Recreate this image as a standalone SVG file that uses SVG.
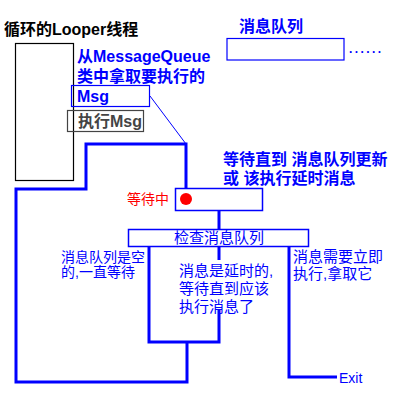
<svg xmlns="http://www.w3.org/2000/svg" width="400" height="400" viewBox="0 0 400 400">
<style>
text{font-family:"Liberation Sans","Noto Sans CJK SC",sans-serif;}
.b{fill:#0000ff;font-weight:bold;font-size:16px;}
.n{fill:#0000ff;font-size:15px;}
.s{fill:#0000ff;font-size:14px;}
.thick{fill:none;stroke:#0000ff;stroke-width:3;}
.box{fill:#fff;stroke:#0000ff;stroke-width:1.5;}
</style>
<rect width="400" height="400" fill="#fff"/>
<g id="title"><text x="4" y="35" font-size="16" font-weight="bold" fill="#000">循环的Looper线程</text></g>
<g id="looper"><rect x="15.5" y="43.5" width="58" height="137" fill="none" stroke="#000" stroke-width="1.2"/></g>
<g id="fetch-label">
<text class="b" x="77" y="62">从MessageQueue</text>
<text class="b" x="77" y="82">类中拿取要执行的</text>
</g>
<g id="msg"><rect x="71.5" y="85.5" width="78" height="21" fill="none" stroke="#0000ff" stroke-width="1.2"/><text class="b" x="77" y="102">Msg</text></g>
<g id="exec"><rect x="67.5" y="110.5" width="76" height="21" fill="none" stroke="#444" stroke-width="1.2"/><text x="78" y="127" font-size="16" font-weight="bold" fill="#444">执行Msg</text></g>
<g id="queue">
<text class="b" x="239" y="32">消息队列</text>
<rect x="227" y="38.5" width="117" height="21.5" fill="none" stroke="#0000ff" stroke-width="1.2"/>
<text x="349" y="53" font-size="12" font-weight="bold" fill="#0000ff" letter-spacing="2.4">......</text>
</g>
<g id="wait-label">
<text class="b" x="223" y="165">等待直到 消息队列更新</text>
<text class="b" x="223" y="184">或 该执行延时消息</text>
</g>
<g id="connectors">
<line x1="150" y1="96" x2="186" y2="144" stroke="#0000ff" stroke-width="1"/>
<polyline class="thick" points="186,189 186,144 86,144 86,189 16,189 16,382 187,382 187,342"/>
<polyline class="thick" points="149,246 149,342 219,342 219,246"/>
<line class="thick" x1="219" y1="210" x2="219" y2="230"/>
<polyline class="thick" points="289,246 289,377 337,377"/>
</g>
<g id="waiting">
<text x="127" y="204" font-size="14" fill="#ff0000">等待中</text>
<rect class="box" x="175.5" y="188.5" width="87" height="22"/>
<circle cx="186" cy="199" r="6" fill="#ff0000"/>
</g>
<g id="check">
<rect class="box" x="128.5" y="229.5" width="180" height="17"/>
<text class="n" x="219" y="243" text-anchor="middle">检查消息队列</text>
</g>
<g id="empty"><text class="s" x="61" y="262">消息队列是空</text><text class="s" x="61" y="277">的,一直等待</text></g>
<g id="delayed"><rect x="177" y="260" width="97" height="50" fill="#fff"/><text class="n" x="179" y="276">消息是延时的,</text><text class="n" x="179" y="294">等待直到应该</text><text class="n" x="179" y="312">执行消息了</text></g>
<g id="now"><text class="n" x="293" y="262">消息需要立即</text><text class="n" x="293" y="279">执行,拿取它</text></g>
<g id="exit"><text x="339" y="383" font-size="14" fill="#0000ff">Exit</text></g>
</svg>
